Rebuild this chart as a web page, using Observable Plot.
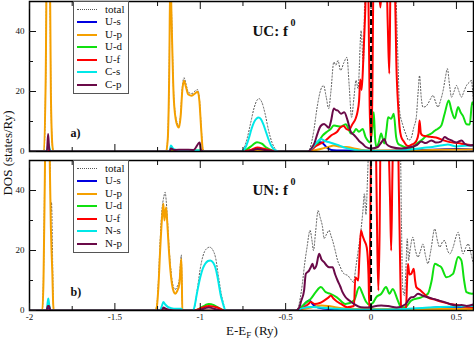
<!DOCTYPE html>
<html><head><meta charset="utf-8">
<script src="https://cdn.jsdelivr.net/npm/d3@7"></script>
<script src="https://cdn.jsdelivr.net/npm/@observablehq/plot@0.6"></script>
<style>
body{margin:0;background:#fff;}
#wrap{position:relative;width:474px;height:339px;overflow:hidden;font-family:"Liberation Serif","Times New Roman",serif;background:#fff;}
.panel{position:absolute;left:0;}
.legend{position:absolute;left:73px;width:54px;height:91px;border:1px solid #555;background:#fff;}
.legend .row{position:absolute;left:0;width:54px;height:12px;}
.legend .ln{position:absolute;left:3px;width:20px;top:5px;}
.legend .tx{position:absolute;left:31px;top:-1px;font-size:11px;line-height:13px;color:#111;}
#ylab{position:absolute;left:-92px;top:145px;width:200px;text-align:center;font-size:13px;transform:rotate(-90deg);color:#111;}
#xlab{position:absolute;left:152px;top:323px;width:200px;text-align:center;font-size:13px;color:#111;}
#xlab sub{font-size:9px;vertical-align:-3px;}
</style></head>
<body><div id="wrap"></div>
<script>
// ---------- data ----------
const xMajorTicks = [-2, -1.5, -1, -0.5, 0, 0.5];
const xMinorTicks = [-1.75, -1.25, -0.75, -0.25, 0.25];
const yMajorTicks = [0, 20, 40];
const yMinorTicks = [10, 30];
const fermiLevel = [0];

const ucLabels = ["total", "U-s", "U-p", "U-d", "U-f", "C-s", "C-p"];
const unLabels = ["total", "U-s", "U-p", "U-d", "U-f", "N-s", "N-p"];
const panelTitles = ["UC: f", "UN: f"];
const panelTags = ["a)", "b)"];

// UC panel
const ucTotal = [[-2,0],[-1.915,0],[-1.905,25],[-1.896,80],[-1.884,80],[-1.875,20],[-1.866,2],[-1.86,0],
[-1.2,0],[-1.19,5],[-1.182,26],[-1.175,62],[-1.168,46],[-1.155,18.5],[-1.14,10.5],[-1.125,8.6],[-1.115,12.5],[-1.105,21.5],[-1.095,24.6],[-1.085,22.8],[-1.07,19.8],[-1.05,19.3],[-1.03,20.2],[-1.015,20.6],[-1.005,17.5],[-0.995,8.5],[-0.985,1],[-0.975,0],
[-0.765,0],[-0.745,1.2],[-0.725,4.5],[-0.705,9.5],[-0.685,14.5],[-0.665,17.3],[-0.655,17.6],[-0.64,16.5],[-0.62,12.5],[-0.6,7],[-0.58,3],[-0.56,0.8],[-0.545,0],
[-0.37,0],[-0.355,1.5],[-0.335,7],[-0.315,15],[-0.295,20.5],[-0.278,22],[-0.262,18],[-0.248,14.3],[-0.235,20],[-0.218,29.8],[-0.206,28.8],[-0.194,30.3],[-0.178,27],[-0.16,29.5],[-0.141,31.4],[-0.128,22],[-0.114,11.4],[-0.1,18],[-0.088,23.7],[-0.076,21],[-0.058,40.3],[-0.045,29],[-0.036,55],[-0.025,65],[0.14,65],[0.15,45],[0.16,26],[0.167,13.7],[0.185,9],[0.206,5.5],[0.22,3.7],[0.235,4.5],[0.25,8],[0.265,11.4],[0.276,20],[0.284,25.3],[0.294,18],[0.304,14.8],[0.32,15],[0.333,15.9],[0.348,17.5],[0.363,18.7],[0.378,16.5],[0.392,14.8],[0.407,17],[0.422,20.3],[0.435,24.5],[0.447,27.6],[0.46,22],[0.471,18.1],[0.486,20],[0.5,22],[0.515,20],[0.529,18.1],[0.544,20],[0.559,22],[0.574,23],[0.588,23.7],[0.6,17.5],[0.61,17]];
const ucUs = [[-2,0],[-1.9,0],[-1.892,0.6],[-1.884,0],[-0.37,0],[-0.345,0.8],[-0.325,2],[-0.308,2.9],[-0.294,3.1],[-0.28,2.6],[-0.262,1.5],[-0.245,0.8],[-0.22,0.4],[-0.18,0.3],[-0.1,0.3],[0,0.2],[0.2,0.3],[0.3,0.5],[0.4,0.7],[0.5,0.8],[0.61,0.6]];
const ucUp = [[-2,0],[-1.915,0],[-1.905,25],[-1.896,80],[-1.884,80],[-1.875,20],[-1.866,2],[-1.86,0],
[-1.2,0],[-1.19,4.5],[-1.182,25],[-1.175,60],[-1.168,44],[-1.155,17.5],[-1.14,9.7],[-1.125,8],[-1.115,11.7],[-1.105,20.5],[-1.095,23.6],[-1.085,21.8],[-1.07,19],[-1.05,18.6],[-1.03,19.4],[-1.015,19.9],[-1.005,16.8],[-0.995,7.8],[-0.985,0.6],[-0.975,0],
[-0.74,0],[-0.665,0.5],[-0.59,0],
[-0.37,0],[-0.33,0.4],[-0.29,0.9],[-0.25,1.5],[-0.218,2],[-0.19,1.7],[-0.16,1.5],[-0.13,1.4],[-0.1,1],[-0.06,0.6],[-0.02,0.3],[0.2,0.3],[0.4,0.6],[0.61,0.7]];
const ucUd = [[-2,0],[-1.9,0],[-1.892,0.8],[-1.884,0],[-1.18,0],[-1.172,0.7],[-1.16,0.3],[-1.1,0.3],[-1,0.3],[-0.985,0],
[-0.765,0],[-0.725,0.8],[-0.695,2.1],[-0.668,3.1],[-0.64,2.6],[-0.61,1.2],[-0.575,0.3],[-0.55,0],
[-0.37,0],[-0.345,1],[-0.31,3],[-0.284,5.3],[-0.26,6.5],[-0.235,7.6],[-0.218,8.7],[-0.2,8.5],[-0.176,8.3],[-0.16,8.8],[-0.147,9.1],[-0.132,7.5],[-0.118,6],[-0.1,6.5],[-0.088,7.5],[-0.071,6.6],[-0.049,7.5],[-0.032,4.8],[-0.02,3.7],[-0.006,3],[0.008,8],[0.016,13.1],[0.023,5],[0.031,1.4],[0.045,3],[0.059,6],[0.07,4],[0.078,2.7],[0.09,7],[0.1,11.4],[0.118,10.9],[0.133,12.6],[0.147,4.8],[0.16,2.5],[0.176,2],[0.2,1.4],[0.235,1.2],[0.265,2.5],[0.294,3.7],[0.32,5],[0.353,6],[0.375,7],[0.392,7.6],[0.412,8.7],[0.431,12.6],[0.455,17],[0.471,13.7],[0.49,11],[0.51,14.8],[0.525,13],[0.539,11.8],[0.559,9.1],[0.578,9],[0.592,16.4],[0.61,14]];
const ucUf = [[-2,0],[-1.9,0],[-1.892,0.5],[-1.884,0],[-0.765,0],[-0.7,0.6],[-0.665,1.3],[-0.62,0.8],[-0.55,0],
[-0.38,0],[-0.35,0.5],[-0.33,1.5],[-0.3,2.5],[-0.27,3.5],[-0.25,4.5],[-0.23,5.5],[-0.2,6.5],[-0.18,8],[-0.16,8.5],[-0.145,7.5],[-0.13,7.2],[-0.11,9],[-0.09,11],[-0.08,13],[-0.07,17],[-0.063,24],[-0.055,20.5],[-0.045,31],[-0.035,45],[-0.025,62],[-0.015,50],[-0.008,15],[0,3],[0.008,20],[0.015,65],[0.03,70],[0.045,55],[0.055,48],[0.07,62],[0.085,70],[0.098,42],[0.107,26],[0.115,60],[0.13,70],[0.14,55],[0.148,30],[0.16,14],[0.167,8.1],[0.176,5],[0.19,3.5],[0.206,2.2],[0.22,1.8],[0.235,2.2],[0.25,2.6],[0.265,3.5],[0.278,6],[0.284,10.3],[0.292,6],[0.304,5.3],[0.333,5],[0.36,4.8],[0.39,4.5],[0.42,3.8],[0.45,3.3],[0.48,3],[0.51,2.8],[0.55,2.4],[0.61,2]];
const ucCs = [[-2,0],[-1.9,0],[-1.888,2.5],[-1.88,0.5],[-1.87,0],[-1.18,0],[-1.172,2],[-1.16,1],[-1.14,0.5],[-1.1,0.3],[-1,0.3],[-0.98,0],
[-0.76,0],[-0.745,0.5],[-0.73,2],[-0.715,4.5],[-0.7,7.5],[-0.685,9.8],[-0.67,11],[-0.659,11.3],[-0.645,10.8],[-0.63,9],[-0.615,6.5],[-0.6,4],[-0.585,2],[-0.57,0.8],[-0.55,0.2],[-0.54,0],
[-0.37,0],[-0.34,1.5],[-0.31,3.5],[-0.294,4.2],[-0.27,3.5],[-0.24,3],[-0.2,2.3],[-0.15,1.2],[-0.1,0.6],[-0.05,0.3],[0.1,0.2],[0.2,0.5],[0.3,1.2],[0.36,1.5],[0.42,2.1],[0.45,2.3],[0.5,1.7],[0.55,1.9],[0.61,2]];
const ucCp = [[-2,0],[-1.898,0],[-1.891,5.8],[-1.885,1],[-1.878,0],[-1.18,0],[-1.172,1],[-1.15,0.5],[-1.1,0.6],[-1.04,0.5],[-1.003,3],[-0.996,0.5],[-0.98,0],
[-0.72,0],[-0.665,0.8],[-0.6,0.3],[-0.55,0],
[-0.37,0],[-0.35,1],[-0.33,3],[-0.314,5.9],[-0.295,8.5],[-0.275,9.2],[-0.26,8.5],[-0.247,7.9],[-0.235,10],[-0.218,14.3],[-0.205,13.8],[-0.196,13.7],[-0.176,12.6],[-0.157,13.1],[-0.137,10.3],[-0.118,6.5],[-0.1,5.5],[-0.088,4.8],[-0.07,3.5],[-0.05,2.6],[-0.03,1.5],[0,1],[0.04,1.5],[0.06,3],[0.078,4.2],[0.09,2.5],[0.118,1.5],[0.176,1],[0.235,1.5],[0.27,2.2],[0.294,3.3],[0.32,2.8],[0.353,3.7],[0.38,3],[0.41,3.3],[0.431,4.8],[0.45,4.2],[0.471,3.7],[0.5,3],[0.53,3.7],[0.55,2.5],[0.58,2],[0.61,2.3]];

// UN panel
const unTotal = [[-2,0],[-1.925,0],[-1.918,12],[-1.91,50],[-1.903,80],[-1.89,80],[-1.88,50],[-1.875,33],[-1.871,36],[-1.866,22],[-1.862,6],[-1.857,0],
[-1.265,0],[-1.255,1.5],[-1.245,10],[-1.235,23],[-1.225,33],[-1.213,38],[-1.206,39.4],[-1.2,37],[-1.193,31],[-1.186,24],[-1.176,16],[-1.166,10.5],[-1.155,7.5],[-1.147,7],[-1.135,8],[-1.122,10.5],[-1.116,15.5],[-1.111,18.5],[-1.108,11],[-1.104,0],
[-1.045,0],[-1.03,2],[-1.015,8],[-1,14],[-0.985,18],[-0.965,20.5],[-0.945,21.1],[-0.925,20],[-0.91,17.5],[-0.895,12],[-0.88,6.5],[-0.865,2.5],[-0.85,0],
[-0.44,0],[-0.43,0.5],[-0.415,4],[-0.402,9],[-0.39,15],[-0.375,21],[-0.357,26.7],[-0.345,23],[-0.337,20],[-0.325,26],[-0.31,33.3],[-0.298,31],[-0.284,27.8],[-0.275,24],[-0.26,25.5],[-0.245,26.7],[-0.235,25],[-0.225,23.3],[-0.21,20],[-0.196,16.7],[-0.18,14.5],[-0.167,12.8],[-0.15,12],[-0.137,11.7],[-0.12,10.5],[-0.102,9.4],[-0.09,14],[-0.075,20],[-0.059,26.7],[-0.048,33],[-0.039,38.9],[-0.03,32],[-0.02,45],[-0.01,60],[0.17,60],[0.178,30],[0.185,8],[0.195,5],[0.205,15],[0.212,23.9],[0.22,16.7],[0.228,20],[0.245,24.4],[0.26,20],[0.275,17.8],[0.29,20],[0.304,22.2],[0.32,18],[0.333,15.6],[0.35,20],[0.373,27.2],[0.39,23],[0.402,21.1],[0.42,23],[0.431,23.3],[0.448,20],[0.461,18.9],[0.48,21],[0.5,25],[0.51,26.1],[0.525,22],[0.539,18.9],[0.555,21],[0.569,22.2],[0.585,19],[0.6,15.6],[0.61,15]];
const unUs = [[-2,0],[-1.895,0],[-1.888,1.5],[-1.88,0],[-0.44,0],[-0.4,1.5],[-0.375,3],[-0.36,3.3],[-0.34,2],[-0.31,1],[-0.25,0.5],[0,0.3],[0.3,0.6],[0.4,1.1],[0.5,1.2],[0.61,0.8]];
const unUp = [[-2,0],[-1.925,0],[-1.918,10],[-1.91,45],[-1.903,80],[-1.89,80],[-1.88,45],[-1.875,28],[-1.871,20],[-1.866,12],[-1.862,3],[-1.858,0],
[-1.265,0],[-1.255,1],[-1.245,8],[-1.235,20],[-1.225,30],[-1.216,35.6],[-1.21,30],[-1.2,34.4],[-1.193,29],[-1.186,22.2],[-1.176,14],[-1.166,8.9],[-1.155,6.2],[-1.147,5.6],[-1.135,6.5],[-1.122,9],[-1.116,14],[-1.111,17.2],[-1.108,10],[-1.105,0],
[-0.44,0],[-0.4,0.5],[-0.35,1],[-0.29,1.7],[-0.25,1.5],[-0.2,1],[-0.1,0.5],[0.3,0.5],[0.61,0.5]];
const unUd = [[-2,0],[-1.225,0],[-1.216,0.5],[-1.2,0],[-1.04,0],[-1,0.8],[-0.97,1.8],[-0.95,2.2],[-0.92,1.8],[-0.89,0.8],[-0.86,0],
[-0.44,0],[-0.41,1],[-0.39,2.2],[-0.353,3.9],[-0.324,6.1],[-0.294,7.8],[-0.265,6.1],[-0.24,5.6],[-0.2,4.4],[-0.15,2.2],[-0.1,3.3],[-0.069,7.8],[-0.05,5.6],[-0.03,3],[-0.01,2],[0.01,2.5],[0.03,4.4],[0.06,5.6],[0.088,7.8],[0.108,5.6],[0.127,7.2],[0.157,3.3],[0.176,1.1],[0.2,1.1],[0.235,3.3],[0.294,4.4],[0.333,5.6],[0.355,10],[0.373,15.6],[0.395,15],[0.412,14.4],[0.441,11.1],[0.48,12.2],[0.51,17.8],[0.529,16.7],[0.545,10],[0.559,6.1],[0.59,5.6],[0.61,6]];
const unUf = [[-2,0],[-1.04,0],[-0.95,1.5],[-0.9,1],[-0.86,0],
[-0.44,0],[-0.4,0.8],[-0.37,2],[-0.353,2.8],[-0.33,2.2],[-0.3,2.5],[-0.275,3.3],[-0.25,4.3],[-0.235,5],[-0.22,4],[-0.2,3],[-0.176,2.2],[-0.14,1.1],[-0.1,1.5],[-0.092,11],[-0.082,10.5],[-0.075,10],[-0.068,18],[-0.059,26.7],[-0.05,25],[-0.039,23.3],[-0.025,21],[-0.015,12],[-0.01,1],[-0.003,40],[0.005,70],[0.02,70],[0.03,50],[0.037,20],[0.043,6.7],[0.05,25],[0.058,70],[0.08,70],[0.1,60],[0.112,35],[0.118,20],[0.125,45],[0.135,70],[0.155,70],[0.163,40],[0.167,27],[0.172,10],[0.176,1],[0.19,0.5],[0.205,0.8],[0.21,8],[0.216,15.6],[0.225,12],[0.235,12.2],[0.25,13.9],[0.258,10],[0.265,7.8],[0.29,6.7],[0.333,4.4],[0.38,3.5],[0.42,2.8],[0.46,2.2],[0.5,1.8],[0.55,1.2],[0.61,1.1]];
const unNs = [[-2,0],[-1.9,0],[-1.893,3],[-1.89,4],[-1.885,2],[-1.88,0.5],[-1.87,0],
[-1.235,0],[-1.225,1.5],[-1.216,2.8],[-1.205,2],[-1.19,1.2],[-1.17,0.8],[-1.14,0.6],[-1.11,0.6],[-1.105,0],
[-1.045,0],[-1.035,1],[-1.02,5.6],[-1,11.1],[-0.985,14],[-0.971,15.6],[-0.955,16.5],[-0.941,16.7],[-0.925,16],[-0.912,14.4],[-0.9,11.5],[-0.892,8.9],[-0.88,5],[-0.872,3.3],[-0.86,1],[-0.853,0],
[-0.44,0],[-0.4,0.8],[-0.35,1.2],[-0.3,1],[-0.2,0.6],[0,0.3],[0.2,0.5],[0.3,0.8],[0.4,1.2],[0.5,1.3],[0.61,1.5]];
const unNp = [[-2,0],[-1.9,0],[-1.893,1.5],[-1.885,1.5],[-1.878,0],[-1.225,0],[-1.216,1],[-1.2,0.5],[-1.16,0],[-1.02,0],[-0.95,1],[-0.88,0],
[-0.44,0],[-0.42,1],[-0.41,3],[-0.392,6.7],[-0.382,12.2],[-0.363,13.3],[-0.353,14.4],[-0.343,15.6],[-0.333,13.9],[-0.32,15],[-0.304,18.9],[-0.29,17],[-0.275,16.1],[-0.26,15],[-0.245,14.4],[-0.225,14.4],[-0.21,12],[-0.196,10],[-0.18,8],[-0.167,6.1],[-0.15,4.5],[-0.127,3.3],[-0.1,2.2],[-0.06,1.1],[-0.02,1],[0.03,1.5],[0.06,1.7],[0.1,1.5],[0.15,1],[0.2,2],[0.235,4.4],[0.25,4.5],[0.275,5.6],[0.3,5],[0.333,4.4],[0.37,3.8],[0.4,3.3],[0.43,2.8],[0.46,2.2],[0.5,1.7],[0.53,1.8],[0.56,1.5],[0.61,2.2]];

// ---------- styles ----------
const seriesColors = ["#555555", "#0000e0", "#f5a000", "#10e010", "#ff0000", "#00e8e8", "#6a0a48"];
const serif = "Liberation Serif, Times New Roman, serif";

function panel(seriesList, titleText, tagText, height, marginBottom, showXLabels) {
  const lines = seriesList.map((s, i) => i === 0
    ? Plot.line(s, {x: d => d[0], y: d => d[1], stroke: seriesColors[0], strokeWidth: 1, strokeDasharray: "1.2,2", curve: "monotone-x", clip: true})
    : Plot.line(s, {x: d => d[0], y: d => d[1], stroke: seriesColors[i], strokeWidth: 2, curve: "monotone-x", clip: true}));
  const blank = () => "";
  return Plot.plot({
    width: 474, height, marginLeft: 29, marginRight: 1, marginTop: 1, marginBottom,
    x: {domain: [-2, 0.6]},
    y: {domain: [0, 50]},
    style: {fontFamily: serif, fontSize: "9px", background: "white", color: "#111"},
    marks: [
      ...lines,
      Plot.ruleX(fermiLevel, {stroke: "black", strokeWidth: 2, strokeDasharray: "6,3"}),
      Plot.frame({stroke: "black", strokeWidth: 1.5}),
      Plot.axisX({anchor: "bottom", ticks: xMajorTicks, tickSize: -7, tickFormat: blank, label: null}),
      Plot.axisX({anchor: "bottom", ticks: xMinorTicks, tickSize: -4, tickFormat: blank, label: null}),
      Plot.axisX({anchor: "top", ticks: xMajorTicks, tickSize: -7, tickFormat: blank, label: null}),
      Plot.axisX({anchor: "top", ticks: xMinorTicks, tickSize: -4, tickFormat: blank, label: null}),
      ...(showXLabels ? [Plot.axisX({anchor: "bottom", ticks: xMajorTicks, tickSize: 0, tickPadding: 3, tickFormat: d => String(d), label: null})] : []),
      Plot.axisY({anchor: "left", ticks: yMajorTicks, tickSize: -7, tickFormat: blank, label: null}),
      Plot.axisY({anchor: "left", ticks: yMinorTicks, tickSize: -4, tickFormat: blank, label: null}),
      Plot.axisY({anchor: "right", ticks: yMajorTicks, tickSize: -7, tickFormat: blank, label: null}),
      Plot.axisY({anchor: "right", ticks: yMinorTicks, tickSize: -4, tickFormat: blank, label: null}),
      Plot.axisY({anchor: "left", ticks: yMajorTicks, tickSize: 0, tickPadding: 5, label: null}),
      Plot.text([titleText], {frameAnchor: "top-left", dx: 223, dy: 30, textAnchor: "start", lineAnchor: "middle", fontSize: 15, fontWeight: "bold", fill: "#111"}),
      Plot.text(["0"], {frameAnchor: "top-left", dx: 261, dy: 21, textAnchor: "start", lineAnchor: "middle", fontSize: 10, fontWeight: "bold", fill: "#111"}),
      Plot.text([tagText], {frameAnchor: "top-left", dx: 41, dy: 132, textAnchor: "start", lineAnchor: "middle", fontSize: 12, fontWeight: "bold", fill: "#111"})
    ]
  });
}

const wrap = document.getElementById("wrap");
const pa = panel([ucTotal, ucUs, ucUp, ucUd, ucUf, ucCs, ucCp], panelTitles[0], panelTags[0], 160, 9, false);
pa.classList.add("panel"); pa.style.top = "0px"; wrap.appendChild(pa);
const pb = panel([unTotal, unUs, unUp, unUd, unUf, unNs, unNp], panelTitles[1], panelTags[1], 180, 29, true);
pb.classList.add("panel"); pb.style.top = "159px"; wrap.appendChild(pb);

function legend(top, labels) {
  const box = document.createElement("div");
  box.className = "legend"; box.style.top = top + "px";
  labels.forEach((lab, i) => {
    const row = document.createElement("div");
    row.className = "row"; row.style.top = (7.6 + 12.5 * i - 6) + "px";
    const ln = document.createElement("div"); ln.className = "ln";
    ln.style.borderTop = i === 0 ? "1px dotted " + seriesColors[0] : "2px solid " + seriesColors[i];
    const tx = document.createElement("div"); tx.className = "tx"; tx.textContent = lab;
    row.appendChild(ln); row.appendChild(tx); box.appendChild(row);
  });
  wrap.appendChild(box);
}
legend(1, ucLabels);
legend(160, unLabels);

const yl = document.createElement("div"); yl.id = "ylab"; yl.textContent = "DOS (states/Ry)"; wrap.appendChild(yl);
const xl = document.createElement("div"); xl.id = "xlab"; xl.innerHTML = "E-E<sub>F</sub> (Ry)"; wrap.appendChild(xl);
</script>
</body></html>
